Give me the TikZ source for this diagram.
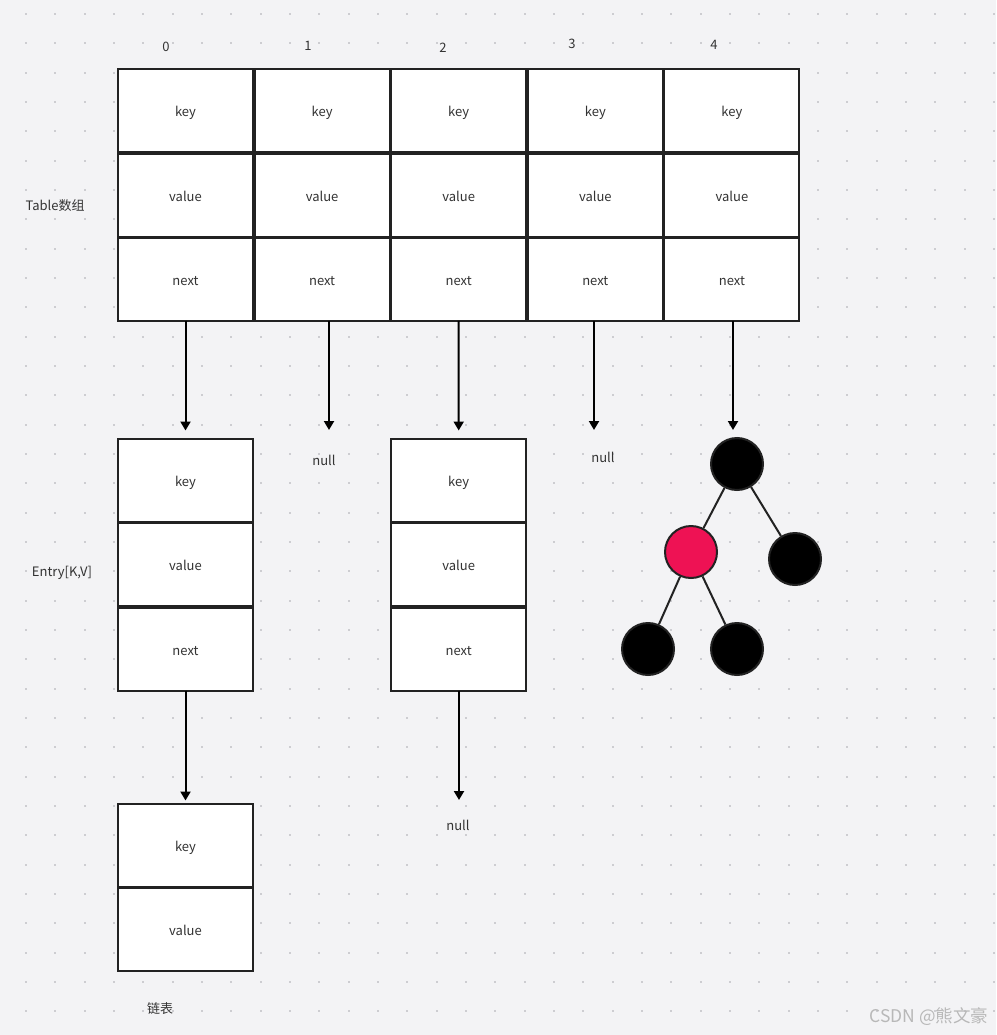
\documentclass[tikz,border=0pt]{standalone}
\usepackage{fontspec}
\setmainfont{Noto Sans CJK SC}
\usepackage{tikz}
\usetikzlibrary{arrows.meta}
\usetikzlibrary{calc}

\definecolor{bgcol}{HTML}{F3F3F5}
\definecolor{dotcol}{HTML}{CDCDD1}
\definecolor{linecol}{HTML}{222222}
\definecolor{txtcol}{HTML}{333333}
\definecolor{rbred}{HTML}{EE1254}
\definecolor{markcol}{HTML}{B8B8B8}

\begin{document}
\begin{tikzpicture}[x=1pt,y=-1pt,thick,
		cell/.style={rectangle,draw=linecol,line width=2pt,fill=white,minimum width=135pt,minimum height=83pt,inner sep=0pt,outer sep=0pt,text=txtcol,text height=12pt,text depth=0pt,font=\fontsize{13}{15}\selectfont},
		lbl/.style={text=txtcol,inner sep=1pt,text height=12pt,text depth=0pt,font=\fontsize{13}{15}\selectfont},
		arr/.style={-{Triangle[width=10pt,length=9pt]},line width=2pt,black},
		rbnode/.style={circle,draw=linecol,line width=2pt,minimum size=52pt,inner sep=0pt,fill=black},
		edge/.style={line width=2pt,draw=linecol}]
	% Define layout parameters (pixels of the sketch).
	\def\colx{185.5}    %Centre of first column.
	\def\colw{136.6}    %Column spacing.
	\def\rowh{84.2}     %Row spacing.
	\def\toprow{111}    %Centre of key row in Table.
	
	% Background and dot grid.
	\useasboundingbox (0,0) rectangle (996,1035);
	\fill[bgcol] (0,0) rectangle (996,1035);
	\foreach \i in {0,...,33}
		\foreach \j in {0,...,34}
			\fill[dotcol] ({26+29.33*\i-1},{14+29.33*\j-1}) rectangle ++(2,2);
	
	% Table array: five buckets of key / value / next.
	\foreach \i in {0,...,4}{
		\node[cell] (k\i) at ({\colx+\colw*\i},\toprow) {key};
		\node[cell] (v\i) at ({\colx+\colw*\i},{\toprow+\rowh}) {value};
		\node[cell] (n\i) at ({\colx+\colw*\i},{\toprow+2*\rowh}) {next};
	}
	\node[lbl] (i0) at (166,46) {0};
	\node[lbl] (i1) at (308,45) {1};
	\node[lbl] (i2) at (443,47) {2};
	\node[lbl] (i3) at (572,43) {3};
	\node[lbl] (i4) at (714,44) {4};
	\node[lbl] (tablbl) at (55,205) {Table数组};
	
	% Entry nodes under buckets 0 and 2.
	\node[cell] (ak) at (185.5,480) {key};
	\node[cell] (av) at (185.5,564.5) {value};
	\node[cell] (an) at (185.5,649) {next};
	\node[cell] (bk) at (458.7,480) {key};
	\node[cell] (bv) at (458.7,564.5) {value};
	\node[cell] (bn) at (458.7,649) {next};
	\node[lbl] (entlbl) at (62,570) {Entry[K,V]};
	
	% Last entry of the linked list.
	\node[cell] (ck) at (185.5,845) {key};
	\node[cell] (cv) at (185.5,929) {value};
	\node[lbl] (listlbl) at (160,1007) {链表};
	
	% Red-black tree under bucket 4.
	\node[rbnode] (root) at (737,464) {};
	\node[rbnode,fill=rbred] (red) at (691,552) {};
	\node[rbnode] (rt) at (795,559) {};
	\node[rbnode] (bl) at (648,649) {};
	\node[rbnode] (br) at (737,649) {};
	\draw[edge] (root) -- (red);
	\draw[edge] (root) -- (rt);
	\draw[edge] (red) -- (bl);
	\draw[edge] (red) -- (br);
	
	% Null ends.
	\node[lbl] (null1) at (324,459) {null};
	\node[lbl] (null3) at (603,456) {null};
	\node[lbl] (null2) at (458,824) {null};
	\coordinate (t1) at (329,430);
	\coordinate (t3) at (594,430);
	\coordinate (t4) at (733,430);
	\coordinate (t2) at (459,800);
	
	% Next pointers.
	\draw[arr,shorten >=8pt] (n0.south) -- (ak.north);
	\draw[arr] (n1.south -| t1) -- (t1);
	\draw[arr,shorten >=8pt] (n2.south) -- (bk.north);
	\draw[arr] (n3.south -| t3) -- (t3);
	\draw[arr] (n4.south -| t4) -- (t4);
	\draw[arr,shorten >=3pt] (an.south) -- (ck.north);
	\draw[arr] (bn.south -| t2) -- (t2);
	
	% Watermark.
	\node[text=markcol,inner sep=0pt,font=\fontsize{17.5}{19}\selectfont] (mark) at (929,1017) {CSDN @熊文豪};
\end{tikzpicture}
\end{document}
